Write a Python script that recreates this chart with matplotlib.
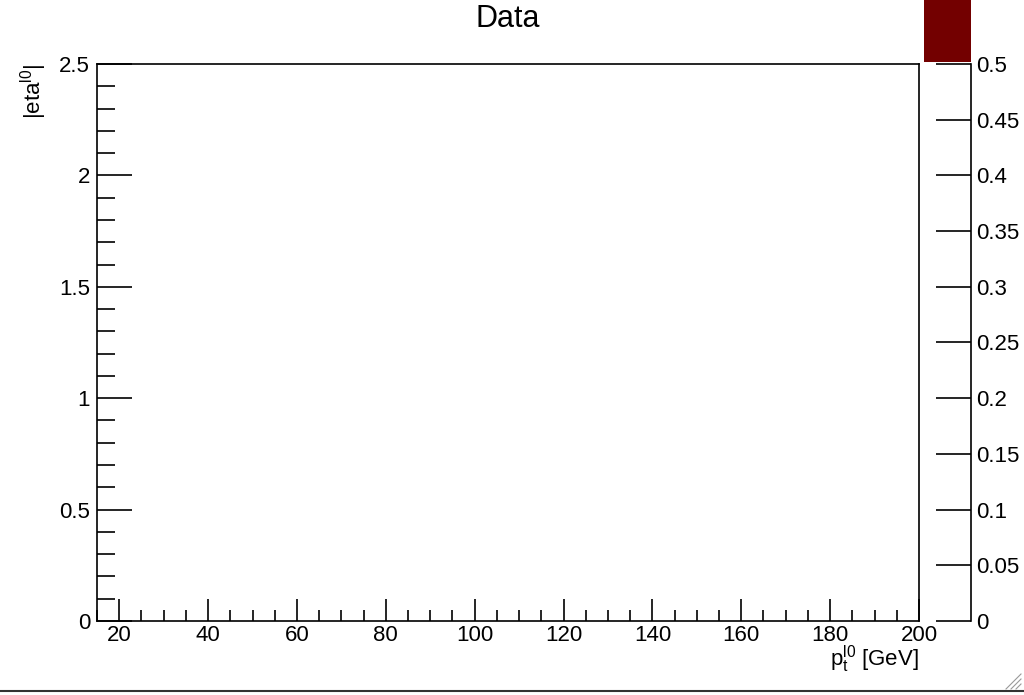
import matplotlib
matplotlib.use("Agg")
import matplotlib.pyplot as plt
from matplotlib.patches import Rectangle
from matplotlib.ticker import MultipleLocator, FormatStrFormatter

plt.rcParams['font.family'] = ['Liberation Sans', 'DejaVu Sans']
plt.rcParams['mathtext.fontset'] = 'custom'
plt.rcParams['mathtext.rm'] = 'Liberation Sans'
plt.rcParams['mathtext.it'] = 'Liberation Sans'
plt.rcParams['mathtext.default'] = 'regular'

# axis ranges of the (empty) 2D histogram
x_range = [15, 200]
y_range = [0, 2.5]
z_range = [0, 0.5]
x_major, x_minor = 20, 5
y_major, y_minor = 0.5, 0.1
z_major = 0.05
title = "Data"
x_label = r"$p_{t}^{l0}$ [GeV]"
y_label = r"|eta$^{l0}$|"
palette_color = "#730000"

W, H = 1024, 695
fig = plt.figure(figsize=(W / 100, H / 100), dpi=100)
fig.patch.set_facecolor('white')

# main frame
left, right, top, bottom = 97, 919, 64, 621
ax = fig.add_axes([left / W, 1 - bottom / H, (right - left) / W, (bottom - top) / H])
ax.set_xlim(*x_range)
ax.set_ylim(*y_range)
ax.xaxis.set_major_locator(MultipleLocator(x_major))
ax.xaxis.set_minor_locator(MultipleLocator(x_minor))
ax.yaxis.set_major_locator(MultipleLocator(y_major))
ax.yaxis.set_minor_locator(MultipleLocator(y_minor))
ax.yaxis.set_major_formatter(FormatStrFormatter('%g'))
ax.tick_params(axis='x', which='major', direction='in', length=16, width=1.2, labelsize=16, pad=3)
ax.tick_params(axis='x', which='minor', direction='in', length=8, width=1.2)
ax.tick_params(axis='y', which='major', direction='in', length=25, width=1.2, labelsize=16, pad=5)
ax.tick_params(axis='y', which='minor', direction='in', length=13, width=1.2)
for s in ax.spines.values():
    s.set_linewidth(1.2)

ax.set_xlabel(x_label, fontsize=16, loc='right', labelpad=-2)
ax.set_ylabel(y_label, fontsize=16, loc='top', labelpad=7)
fig.text(508 / W, 1 - 19 / H, title, ha='center', va='center', fontsize=22)

# palette axis
pal_l, pal_r = 924, 971
pax = fig.add_axes([pal_l / W, 1 - bottom / H, (pal_r - pal_l) / W, (bottom - top) / H])
pax.set_ylim(*z_range)
pax.set_xticks([])
for name in ['left', 'top', 'bottom']:
    pax.spines[name].set_visible(False)
pax.spines['right'].set_linewidth(1.2)
pax.yaxis.tick_right()
pax.yaxis.set_major_locator(MultipleLocator(z_major))
pax.yaxis.set_major_formatter(FormatStrFormatter('%g'))
pax.tick_params(axis='y', which='major', direction='in', length=25, width=1.2, labelsize=16, pad=4)
pax.patch.set_alpha(0)

# colour box of the palette above the frame
fig.patches.append(Rectangle((pal_l / W, 1 - 62 / H), (pal_r - pal_l) / W, 62 / H,
                             transform=fig.transFigure, facecolor=palette_color,
                             edgecolor='none', zorder=0))

# canvas border at bottom and resize grip
fig.add_artist(plt.Line2D([0, 1], [1 - 691 / H, 1 - 691 / H], color='#333333', lw=1.5,
                          transform=fig.transFigure))
for k in range(3):
    off = 5 * k
    fig.add_artist(plt.Line2D([(1006 + off) / W, 1021 / W], [1 - 689 / H, 1 - (674 + off) / H],
                              color='#999999', lw=0.8, transform=fig.transFigure))

fig.savefig("out.png", dpi=100)
